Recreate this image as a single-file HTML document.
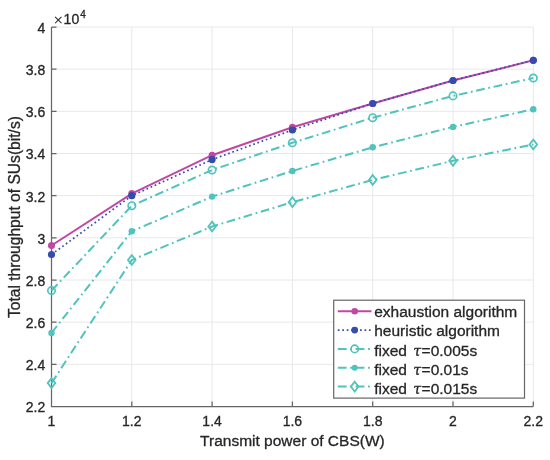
<!DOCTYPE html><html><head><meta charset="utf-8"><style>
html,body{margin:0;padding:0;background:#fff;}
svg{display:block;}
svg{font-family:"Liberation Sans",Arial,sans-serif;}text{fill:#262626;stroke:#262626;stroke-width:0.3px;}
</style></head><body>
<svg width="550" height="460" viewBox="0 0 550 460">
<rect width="550" height="460" fill="#fff"/>
<path d="M131.80 27.00V406.50M212.10 27.00V406.50M292.40 27.00V406.50M372.70 27.00V406.50M453.00 27.00V406.50M533.30 27.00V406.50M51.50 364.33H533.30M51.50 322.17H533.30M51.50 280.00H533.30M51.50 237.83H533.30M51.50 195.67H533.30M51.50 153.50H533.30M51.50 111.33H533.30M51.50 69.17H533.30M51.50 27.00H533.30" stroke="#e8e8e8" stroke-width="1" fill="none"/>
<path d="M51.50 27.00V406.50H533.30M51.50 406.50H56.50M51.50 364.33H56.50M51.50 322.17H56.50M51.50 280.00H56.50M51.50 237.83H56.50M51.50 195.67H56.50M51.50 153.50H56.50M51.50 111.33H56.50M51.50 69.17H56.50M51.50 27.00H56.50M51.50 406.50V401.50M131.80 406.50V401.50M212.10 406.50V401.50M292.40 406.50V401.50M372.70 406.50V401.50M453.00 406.50V401.50M533.30 406.50V401.50" stroke="#666" stroke-width="1.25" fill="none"/>
<polyline points="51.50,245.50 131.80,193.60 212.10,155.20 292.40,127.20 372.70,103.50 453.00,80.50 533.30,60.30" fill="none" stroke="#c147a3" stroke-width="2.0"/>
<circle cx="51.50" cy="245.50" r="3.50" fill="#c147a3"/>
<circle cx="131.80" cy="193.60" r="3.50" fill="#c147a3"/>
<circle cx="212.10" cy="155.20" r="3.50" fill="#c147a3"/>
<circle cx="292.40" cy="127.20" r="3.50" fill="#c147a3"/>
<circle cx="372.70" cy="103.50" r="3.50" fill="#c147a3"/>
<circle cx="453.00" cy="80.50" r="3.50" fill="#c147a3"/>
<circle cx="533.30" cy="60.30" r="3.50" fill="#c147a3"/>
<polyline points="51.50,254.50 131.80,195.70 212.10,159.60 292.40,130.00 372.70,103.50 453.00,80.50 533.30,60.30" fill="none" stroke="#334cae" stroke-width="1.7" stroke-dasharray="1.7 2.75"/>
<circle cx="51.50" cy="254.50" r="3.60" fill="#334cae"/>
<circle cx="131.80" cy="195.70" r="3.60" fill="#334cae"/>
<circle cx="212.10" cy="159.60" r="3.60" fill="#334cae"/>
<circle cx="292.40" cy="130.00" r="3.60" fill="#334cae"/>
<circle cx="372.70" cy="103.50" r="3.60" fill="#334cae"/>
<circle cx="453.00" cy="80.50" r="3.60" fill="#334cae"/>
<circle cx="533.30" cy="60.30" r="3.60" fill="#334cae"/>
<polyline points="51.50,290.60 131.80,205.70 212.10,170.00 292.40,142.80 372.70,117.70 453.00,95.90 533.30,78.00" fill="none" stroke="#50c3bd" stroke-width="2" stroke-dasharray="8.8 3.6 1.8 3.6"/>
<circle cx="51.50" cy="290.60" r="3.7" fill="none" stroke="#50c3bd" stroke-width="1.7"/>
<circle cx="131.80" cy="205.70" r="3.7" fill="none" stroke="#50c3bd" stroke-width="1.7"/>
<circle cx="212.10" cy="170.00" r="3.7" fill="none" stroke="#50c3bd" stroke-width="1.7"/>
<circle cx="292.40" cy="142.80" r="3.7" fill="none" stroke="#50c3bd" stroke-width="1.7"/>
<circle cx="372.70" cy="117.70" r="3.7" fill="none" stroke="#50c3bd" stroke-width="1.7"/>
<circle cx="453.00" cy="95.90" r="3.7" fill="none" stroke="#50c3bd" stroke-width="1.7"/>
<circle cx="533.30" cy="78.00" r="3.7" fill="none" stroke="#50c3bd" stroke-width="1.7"/>
<polyline points="51.50,332.90 131.80,231.30 212.10,196.60 292.40,171.00 372.70,147.30 453.00,126.90 533.30,109.30" fill="none" stroke="#50c3bd" stroke-width="2" stroke-dasharray="8.8 3.6 1.8 3.6"/>
<circle cx="51.50" cy="332.90" r="3.20" fill="#50c3bd"/>
<circle cx="131.80" cy="231.30" r="3.20" fill="#50c3bd"/>
<circle cx="212.10" cy="196.60" r="3.20" fill="#50c3bd"/>
<circle cx="292.40" cy="171.00" r="3.20" fill="#50c3bd"/>
<circle cx="372.70" cy="147.30" r="3.20" fill="#50c3bd"/>
<circle cx="453.00" cy="126.90" r="3.20" fill="#50c3bd"/>
<circle cx="533.30" cy="109.30" r="3.20" fill="#50c3bd"/>
<polyline points="51.50,383.10 131.80,260.00 212.10,226.50 292.40,202.20 372.70,179.90 453.00,160.80 533.30,144.50" fill="none" stroke="#50c3bd" stroke-width="2" stroke-dasharray="8.8 3.6 1.8 3.6"/>
<path d="M51.50 378.20L55.30 383.10L51.50 388.00L47.70 383.10Z" fill="none" stroke="#50c3bd" stroke-width="1.8" stroke-linejoin="miter"/>
<path d="M131.80 255.10L135.60 260.00L131.80 264.90L128.00 260.00Z" fill="none" stroke="#50c3bd" stroke-width="1.8" stroke-linejoin="miter"/>
<path d="M212.10 221.60L215.90 226.50L212.10 231.40L208.30 226.50Z" fill="none" stroke="#50c3bd" stroke-width="1.8" stroke-linejoin="miter"/>
<path d="M292.40 197.30L296.20 202.20L292.40 207.10L288.60 202.20Z" fill="none" stroke="#50c3bd" stroke-width="1.8" stroke-linejoin="miter"/>
<path d="M372.70 175.00L376.50 179.90L372.70 184.80L368.90 179.90Z" fill="none" stroke="#50c3bd" stroke-width="1.8" stroke-linejoin="miter"/>
<path d="M453.00 155.90L456.80 160.80L453.00 165.70L449.20 160.80Z" fill="none" stroke="#50c3bd" stroke-width="1.8" stroke-linejoin="miter"/>
<path d="M533.30 139.60L537.10 144.50L533.30 149.40L529.50 144.50Z" fill="none" stroke="#50c3bd" stroke-width="1.8" stroke-linejoin="miter"/>
<text x="45.2" y="412.40" font-size="14" text-anchor="end">2.2</text>
<text x="45.2" y="370.23" font-size="14" text-anchor="end">2.4</text>
<text x="45.2" y="328.07" font-size="14" text-anchor="end">2.6</text>
<text x="45.2" y="285.90" font-size="14" text-anchor="end">2.8</text>
<text x="45.2" y="243.73" font-size="14" text-anchor="end">3</text>
<text x="45.2" y="201.57" font-size="14" text-anchor="end">3.2</text>
<text x="45.2" y="159.40" font-size="14" text-anchor="end">3.4</text>
<text x="45.2" y="117.23" font-size="14" text-anchor="end">3.6</text>
<text x="45.2" y="75.07" font-size="14" text-anchor="end">3.8</text>
<text x="45.2" y="32.90" font-size="14" text-anchor="end">4</text>
<text x="51.50" y="426.2" font-size="14" text-anchor="middle">1</text>
<text x="131.80" y="426.2" font-size="14" text-anchor="middle">1.2</text>
<text x="212.10" y="426.2" font-size="14" text-anchor="middle">1.4</text>
<text x="292.40" y="426.2" font-size="14" text-anchor="middle">1.6</text>
<text x="372.70" y="426.2" font-size="14" text-anchor="middle">1.8</text>
<text x="453.00" y="426.2" font-size="14" text-anchor="middle">2</text>
<text x="533.30" y="426.2" font-size="14" text-anchor="middle">2.2</text>
<text x="53.1" y="24.3" font-size="12.6" font-family="DejaVu Sans" style="stroke-width:0">×</text>
<text x="63.6" y="24.2" font-size="14">10</text>
<text x="80.3" y="17.7" font-size="10">4</text>
<text x="292.4" y="445.6" font-size="15.5" text-anchor="middle">Transmit power of CBS(W)</text>
<text transform="translate(19.6 217.1) rotate(-90)" font-size="15.6" text-anchor="middle">Total throughput of SUs(bit/s)</text>
<rect x="333.70" y="300.20" width="190.80" height="97.90" fill="#fff" stroke="#666" stroke-width="1.2" opacity="1"/>
<line x1="337.80" y1="311.20" x2="371.50" y2="311.20" stroke="#c147a3" stroke-width="2.0"/>
<circle cx="354.70" cy="311.20" r="3.30" fill="#c147a3"/>
<line x1="337.80" y1="330.10" x2="371.50" y2="330.10" stroke="#334cae" stroke-width="1.7" stroke-dasharray="1.7 2.75"/>
<circle cx="354.70" cy="330.10" r="3.40" fill="#334cae"/>
<line x1="337.80" y1="348.90" x2="371.50" y2="348.90" stroke="#50c3bd" stroke-width="2" stroke-dasharray="8.8 3.6 1.8 3.6"/>
<line x1="337.80" y1="367.70" x2="371.50" y2="367.70" stroke="#50c3bd" stroke-width="2" stroke-dasharray="8.8 3.6 1.8 3.6"/>
<line x1="337.80" y1="386.60" x2="371.50" y2="386.60" stroke="#50c3bd" stroke-width="2" stroke-dasharray="8.8 3.6 1.8 3.6"/>
<circle cx="354.70" cy="348.90" r="3.7" fill="none" stroke="#50c3bd" stroke-width="1.7"/>
<circle cx="354.70" cy="367.70" r="3.00" fill="#50c3bd"/>
<path d="M354.70 381.70L358.50 386.60L354.70 391.50L350.90 386.60Z" fill="none" stroke="#50c3bd" stroke-width="1.8" stroke-linejoin="miter"/>
<text x="374.2" y="316.70" font-size="15.5">exhaustion algorithm</text>
<text x="374.2" y="335.60" font-size="15.5">heuristic algorithm</text>
<text x="374.2" y="355.50" font-size="15.5">fixed</text>
<text x="413.2" y="355.80" font-size="14.2" font-family="DejaVu Serif" font-style="italic">τ</text>
<text x="421.6" y="355.50" font-size="15.5">=0.005s</text>
<text x="374.2" y="374.50" font-size="15.5">fixed</text>
<text x="413.2" y="374.80" font-size="14.2" font-family="DejaVu Serif" font-style="italic">τ</text>
<text x="421.6" y="374.50" font-size="15.5">=0.01s</text>
<text x="374.2" y="393.60" font-size="15.5">fixed</text>
<text x="413.2" y="393.90" font-size="14.2" font-family="DejaVu Serif" font-style="italic">τ</text>
<text x="421.6" y="393.60" font-size="15.5">=0.015s</text>
</svg></body></html>
